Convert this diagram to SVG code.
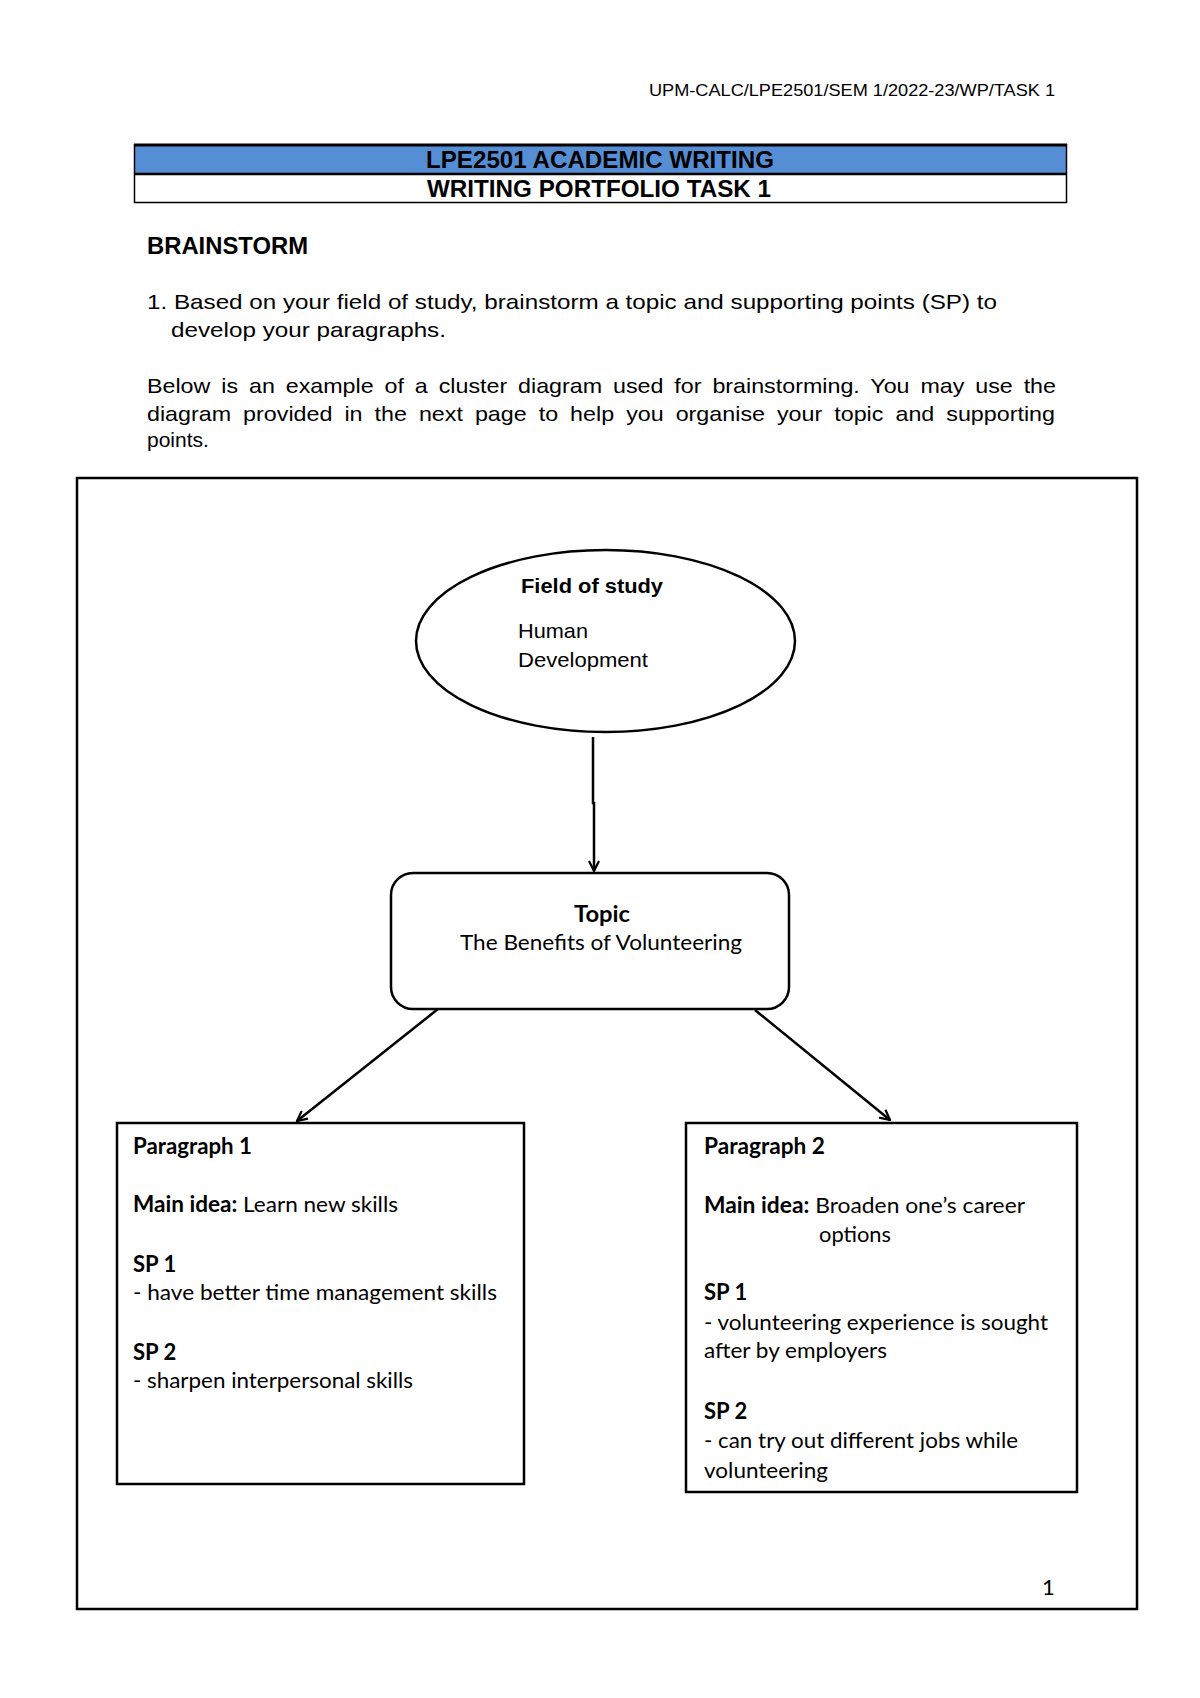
<svg xmlns="http://www.w3.org/2000/svg" width="1200" height="1698" viewBox="0 0 1200 1698">
  <style>
    .arial { font-family: "Liberation Sans", Arial, sans-serif; fill: #000; }
    .cal { font-family: Lato, "Open Sans", sans-serif; fill: #000; font-size: 22px; }
    .b { font-weight: bold; }
    .box { fill: #fff; stroke: #000; stroke-width: 2.5; }
    .conn { fill: none; stroke: #000; stroke-width: 2.5; }
  </style>
  <defs>
    <marker id="arrow" viewBox="0 0 12 12" refX="11" refY="6" markerWidth="12" markerHeight="12" markerUnits="userSpaceOnUse" orient="auto">
      <path d="M1,1 L11,6 L1,11" fill="none" stroke="#000" stroke-width="2.2"/>
    </marker>
  </defs>
  <rect x="0" y="0" width="1200" height="1698" fill="#fff"/>

  <g id="page-header">
    <text class="arial" x="649" y="96" font-size="17" textLength="406" lengthAdjust="spacingAndGlyphs">UPM-CALC/LPE2501/SEM 1/2022-23/WP/TASK 1</text>
  </g>

  <g id="title-box">
    <rect x="134" y="144" width="933" height="30" fill="#558ED5"/>
    <rect x="134" y="174" width="933" height="29" fill="#fff"/>
    <line x1="134" y1="145" x2="1067" y2="145" stroke="#000" stroke-width="3"/>
    <line x1="134" y1="174" x2="1067" y2="174" stroke="#000" stroke-width="2.5"/>
    <line x1="134" y1="202.5" x2="1067" y2="202.5" stroke="#000" stroke-width="1.5"/>
    <line x1="134.5" y1="144" x2="134.5" y2="203" stroke="#000" stroke-width="1.5"/>
    <line x1="1066.5" y1="144" x2="1066.5" y2="203" stroke="#000" stroke-width="1.5"/>
    <text class="arial b" x="426" y="168" font-size="23" textLength="348" lengthAdjust="spacingAndGlyphs">LPE2501 ACADEMIC WRITING</text>
    <text class="arial b" x="427" y="197" font-size="23" textLength="344" lengthAdjust="spacingAndGlyphs">WRITING PORTFOLIO TASK 1</text>
  </g>

  <g id="instructions">
    <text class="arial b" x="147" y="254" font-size="23" textLength="161" lengthAdjust="spacingAndGlyphs">BRAINSTORM</text>
    <text class="arial" x="147" y="309" font-size="21" textLength="850" lengthAdjust="spacingAndGlyphs">1. Based on your field of study, brainstorm a topic and supporting points (SP) to</text>
    <text class="arial" x="171" y="337" font-size="21" textLength="275" lengthAdjust="spacingAndGlyphs">develop your paragraphs.</text>
    <text class="arial" x="147" y="393" font-size="21" word-spacing="4" textLength="909" lengthAdjust="spacingAndGlyphs">Below is an example of a cluster diagram used for brainstorming. You may use the</text>
    <text class="arial" x="147" y="421" font-size="21" word-spacing="5" textLength="908" lengthAdjust="spacingAndGlyphs">diagram provided in the next page to help you organise your topic and supporting</text>
    <text class="arial" x="147" y="447" font-size="21">points.</text>
  </g>

  <g id="frame">
    <rect x="77" y="478" width="1060" height="1131" fill="none" stroke="#000" stroke-width="2.5"/>
    <text class="cal" x="1042" y="1595" font-size="20">1</text>
  </g>

  <g id="connectors">
    <polyline class="conn" points="593,737 593,803 594,803 594,871" marker-end="url(#arrow)"/>
    <line class="conn" x1="438" y1="1009" x2="297" y2="1121" marker-end="url(#arrow)"/>
    <line class="conn" x1="755" y1="1010" x2="890" y2="1120" marker-end="url(#arrow)"/>
  </g>

  <g id="field-of-study">
    <ellipse class="box" cx="605.5" cy="641" rx="189.5" ry="91"/>
    <text class="arial b" x="521" y="593" font-size="20" textLength="142" lengthAdjust="spacingAndGlyphs">Field of study</text>
    <text class="arial" x="518" y="638" font-size="21" textLength="70" lengthAdjust="spacingAndGlyphs">Human</text>
    <text class="arial" x="518" y="667" font-size="21" textLength="130" lengthAdjust="spacingAndGlyphs">Development</text>
  </g>

  <g id="topic">
    <rect class="box" x="391" y="873" width="398" height="136" rx="22" ry="22"/>
    <text class="cal b" x="602" y="922" text-anchor="middle" textLength="56" lengthAdjust="spacingAndGlyphs">Topic</text>
    <text class="cal" x="460" y="950" textLength="282" lengthAdjust="spacingAndGlyphs">The Benefits of Volunteering</text>
  </g>

  <g id="paragraph-1">
    <rect class="box" x="117" y="1123" width="407" height="361"/>
    <text class="cal b" x="133" y="1154" textLength="119" lengthAdjust="spacingAndGlyphs">Paragraph 1</text>
    <text class="cal" x="133" y="1212" textLength="265" lengthAdjust="spacingAndGlyphs"><tspan class="b">Main idea:</tspan> Learn new skills</text>
    <text class="cal b" x="133" y="1272">SP 1</text>
    <text class="cal" x="133" y="1300" textLength="364" lengthAdjust="spacingAndGlyphs">- have better time management skills</text>
    <text class="cal b" x="133" y="1360">SP 2</text>
    <text class="cal" x="133" y="1388" textLength="280" lengthAdjust="spacingAndGlyphs">- sharpen interpersonal skills</text>
  </g>

  <g id="paragraph-2">
    <rect class="box" x="686" y="1123" width="391" height="369"/>
    <text class="cal b" x="704" y="1154" textLength="121" lengthAdjust="spacingAndGlyphs">Paragraph 2</text>
    <text class="cal" x="704" y="1213" textLength="321" lengthAdjust="spacingAndGlyphs"><tspan class="b">Main idea:</tspan> Broaden one’s career</text>
    <text class="cal" x="819" y="1242" textLength="72" lengthAdjust="spacingAndGlyphs">options</text>
    <text class="cal b" x="704" y="1300">SP 1</text>
    <text class="cal" x="704" y="1330" textLength="344" lengthAdjust="spacingAndGlyphs">- volunteering experience is sought</text>
    <text class="cal" x="704" y="1358" textLength="183" lengthAdjust="spacingAndGlyphs">after by employers</text>
    <text class="cal b" x="704" y="1419">SP 2</text>
    <text class="cal" x="704" y="1448" textLength="314" lengthAdjust="spacingAndGlyphs">- can try out different jobs while</text>
    <text class="cal" x="704" y="1478" textLength="124" lengthAdjust="spacingAndGlyphs">volunteering</text>
  </g>
</svg>
